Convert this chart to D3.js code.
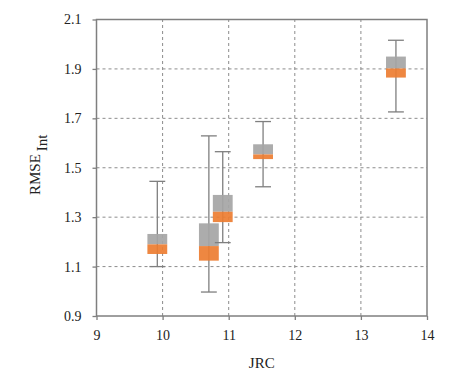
<!DOCTYPE html>
<html><head><meta charset="utf-8">
<script src="https://cdn.jsdelivr.net/npm/d3@7"></script>
<style>body{margin:0;background:#fff}svg{display:block}</style>
</head><body>
<script>
const jrc    = [9.92, 10.70, 10.91, 11.52, 13.53];
const wMin   = [1.100, 0.997, 1.197, 1.423, 1.726];
const q1     = [1.151, 1.124, 1.280, 1.535, 1.865];
const median = [1.190, 1.183, 1.322, 1.554, 1.902];
const q3     = [1.232, 1.275, 1.390, 1.595, 1.950];
const wMax   = [1.445, 1.629, 1.565, 1.687, 2.016];
const xTicks = [9, 10, 11, 12, 13, 14];
const yTicks = [0.9, 1.1, 1.3, 1.5, 1.7, 1.9, 2.1];

const W = 474, H = 387;
const svg = d3.select("body").append("svg").attr("width", W).attr("height", H);
const x = d3.scaleLinear().domain([9, 14]).range([96.5, 427]);
const y = d3.scaleLinear().domain([0.9, 2.1]).range([316, 19.5]);
const font = "'Liberation Serif','Times New Roman',serif";

// gridlines
svg.append("g").selectAll("line").data(yTicks.slice(1, -1)).join("line")
  .attr("x1", x(9)).attr("x2", x(14)).attr("y1", d => y(d)).attr("y2", d => y(d))
  .attr("stroke", "#8c8c8c").attr("stroke-dasharray", "3,3").attr("stroke-width", 1);
svg.append("g").selectAll("line").data(xTicks.slice(1, -1)).join("line")
  .attr("y1", y(0.9)).attr("y2", y(2.1)).attr("x1", d => x(d)).attr("x2", d => x(d))
  .attr("stroke", "#8c8c8c").attr("stroke-dasharray", "3,3").attr("stroke-width", 1);

const data = jrc.map((j, i) => ({j, lo: wMin[i], q1: q1[i], m: median[i], q3: q3[i], hi: wMax[i]}));
const boxW = 0.3, capW = 0.24;
const g = svg.append("g");
data.forEach(d => {
  const cx = x(d.j);
  const bw = x(9 + boxW) - x(9), cw = x(9 + capW) - x(9);
  g.append("line").attr("x1", cx).attr("x2", cx).attr("y1", y(d.lo)).attr("y2", y(d.hi))
    .attr("stroke", "#7f7f7f").attr("stroke-width", 1.3);
  [d.lo, d.hi].forEach(v => g.append("line").attr("x1", cx - cw / 2).attr("x2", cx + cw / 2)
    .attr("y1", y(v)).attr("y2", y(v)).attr("stroke", "#7f7f7f").attr("stroke-width", 1.3));
  g.append("rect").attr("x", cx - bw / 2).attr("width", bw)
    .attr("y", y(d.q3)).attr("height", y(d.m) - y(d.q3)).attr("fill", "#a5a5a5").attr("fill-opacity", 0.92);
  g.append("rect").attr("x", cx - bw / 2).attr("width", bw)
    .attr("y", y(d.m)).attr("height", y(d.q1) - y(d.m)).attr("fill", "#ed7d31").attr("fill-opacity", 0.92);
});

// frame
svg.append("rect").attr("x", x(9)).attr("y", y(2.1)).attr("width", x(14) - x(9)).attr("height", y(0.9) - y(2.1))
  .attr("fill", "none").attr("stroke", "#7f7f7f").attr("stroke-width", 1.5);

// axes
const yAxis = svg.append("g").attr("transform", `translate(${x(9)},0)`)
  .call(d3.axisLeft(y).tickValues(yTicks).tickFormat(d3.format(".1f")).tickSize(4).tickPadding(11));
const xAxis = svg.append("g").attr("transform", `translate(0,${y(0.9)})`)
  .call(d3.axisBottom(x).tickValues(xTicks).tickFormat(d3.format("d")).tickSize(4).tickPadding(10));
[yAxis, xAxis].forEach(a => {
  a.select(".domain").remove();
  a.selectAll(".tick line").attr("stroke", "#7f7f7f").attr("stroke-width", 1.3);
  a.selectAll(".tick text").attr("font-family", font).attr("font-size", 14).attr("fill", "#222");
});

svg.append("text").attr("x", x(11.5)).attr("y", 368).attr("text-anchor", "middle")
  .attr("font-family", font).attr("font-size", 15).attr("fill", "#222").text("JRC");

const yl = svg.append("text").attr("transform", "translate(40,195) rotate(-90)")
  .attr("font-family", font).attr("font-size", 15).attr("fill", "#222");
yl.append("tspan").text("RMSE");
yl.append("tspan").attr("dx", 3).attr("dy", 7).text("Int");
</script>
</body></html>
